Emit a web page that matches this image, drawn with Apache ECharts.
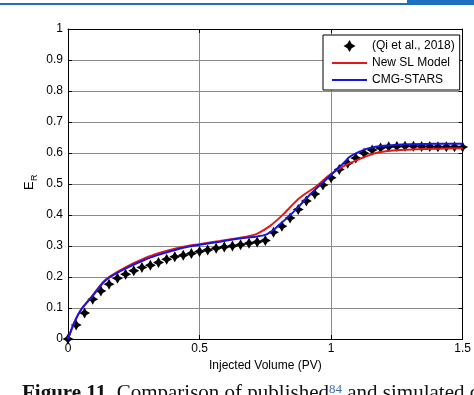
<!DOCTYPE html>
<html>
<head>
<meta charset="utf-8">
<script src="https://cdn.jsdelivr.net/npm/echarts@6/dist/echarts.min.js"></script>
<style>
html,body{margin:0;padding:0;background:#fff;}
#c{width:474px;height:395px;}
</style>
</head>
<body>
<div id="c"></div>
<script>
// ---- data ----
const seriesNames = ['(Qi et al., 2018)', 'New SL Model', 'CMG-STARS'];
const xTicks = [0, 0.5, 1, 1.5];
const yTicks = [0, 0.1, 0.2, 0.3, 0.4, 0.5, 0.6, 0.7, 0.8, 0.9, 1];

const expX = [0,0.031,0.063,0.094,0.125,0.156,0.188,0.219,0.25,0.281,0.313,0.344,0.375,0.406,0.438,0.469,0.5,0.531,0.563,0.594,0.625,0.656,0.688,0.719,0.75,0.781,0.813,0.844,0.875,0.906,0.938,0.969,1.0,1.031,1.063,1.094,1.125,1.156,1.188,1.219,1.25,1.281,1.313,1.344,1.375,1.406,1.438,1.469,1.5];
const expY = [0,0.045,0.084,0.128,0.155,0.177,0.196,0.209,0.22,0.231,0.238,0.247,0.257,0.265,0.27,0.276,0.282,0.287,0.293,0.297,0.30,0.304,0.309,0.313,0.318,0.344,0.364,0.39,0.418,0.445,0.468,0.497,0.52,0.547,0.567,0.584,0.599,0.61,0.616,0.62,0.621,0.622,0.622,0.621,0.621,0.62,0.62,0.62,0.619];

const slX = [0,0.025,0.05,0.09,0.134,0.16,0.22,0.29,0.35,0.41,0.46,0.5,0.577,0.65,0.69,0.72,0.767,0.818,0.88,0.944,0.995,1.046,1.11,1.17,1.235,1.32,1.4,1.5];
const slY = [0,0.055,0.095,0.137,0.184,0.202,0.232,0.26,0.278,0.292,0.301,0.306,0.316,0.326,0.332,0.34,0.364,0.402,0.455,0.493,0.53,0.557,0.581,0.60,0.608,0.612,0.614,0.615];

const cmgX = [0,0.025,0.05,0.09,0.134,0.16,0.22,0.29,0.35,0.41,0.46,0.5,0.577,0.653,0.72,0.75,0.77,0.805,0.843,0.88,0.92,0.98,1.0,1.046,1.071,1.11,1.14,1.2,1.3,1.4,1.5];
const cmgY = [0,0.055,0.095,0.135,0.182,0.20,0.228,0.255,0.273,0.288,0.298,0.304,0.314,0.324,0.331,0.336,0.345,0.37,0.398,0.43,0.466,0.514,0.53,0.566,0.588,0.605,0.615,0.623,0.628,0.63,0.63];

const zip = (xs, ys) => xs.map((x, i) => [x, ys[i]]);

const FONT = 'Liberation Sans, Arial, sans-serif';
const starPath = 'path://M0,-10L3.6,-3.6L10,0L3.6,3.6L0,10L-3.6,3.6L-10,0L-3.6,-3.6Z';
const lineIcon = 'path://M0,0L70,0L70,4L0,4Z';

const chart = echarts.init(document.getElementById('c'), null, {renderer: 'canvas'});

const axisCommon = {
  type: 'value',
  axisLine: {show: true, onZero: false, lineStyle: {color: '#000', width: 1}},
  axisTick: {show: true, inside: true, length: 4, lineStyle: {color: '#000'}},
};

chart.setOption({
  animation: false,
  backgroundColor: '#fff',
  grid: {left: 68, right: 11, top: 29, bottom: 56, containLabel: false},
  xAxis: [
    Object.assign({}, axisCommon, {
      min: xTicks[0], max: xTicks[xTicks.length - 1], interval: 0.5, position: 'bottom',
      name: 'Injected Volume (PV)', nameLocation: 'middle', nameGap: 19,
      nameTextStyle: {color: '#000', fontSize: 12, fontFamily: FONT},
      axisLabel: {color: '#000', fontSize: 12, fontFamily: FONT, margin: 4},
      splitLine: {show: true, lineStyle: {color: '#8a8a8a', width: 1}}
    }),
    Object.assign({}, axisCommon, {
      min: xTicks[0], max: xTicks[xTicks.length - 1], interval: 0.5, position: 'top',
      axisLabel: {show: false}, splitLine: {show: false}
    })
  ],
  yAxis: [
    Object.assign({}, axisCommon, {
      min: yTicks[0], max: yTicks[yTicks.length - 1], interval: 0.1, position: 'left',
      axisLabel: {color: '#000', fontSize: 12, fontFamily: FONT, margin: 5,
        formatter: v => String(Math.round(v * 10) / 10)},
      splitLine: {show: true, lineStyle: {color: '#8a8a8a', width: 1}}
    }),
    Object.assign({}, axisCommon, {
      min: yTicks[0], max: yTicks[yTicks.length - 1], interval: 0.1, position: 'right',
      axisLabel: {show: false}, splitLine: {show: false}
    })
  ],
  legend: {
    orient: 'vertical', left: 323, top: 35,
    backgroundColor: '#fff', borderColor: '#000', borderWidth: 1, borderRadius: 0,
    padding: [5, 5, 4, 9], itemGap: 5, itemWidth: 35, itemHeight: 12,
    textStyle: {color: '#000', fontSize: 12, fontFamily: FONT},
    data: [
      {name: seriesNames[0], icon: starPath},
      {name: seriesNames[1], icon: lineIcon},
      {name: seriesNames[2], icon: lineIcon}
    ]
  },
  series: [
    {
      name: seriesNames[0], type: 'scatter', data: zip(expX, expY),
      symbol: starPath, symbolSize: 11,
      itemStyle: {color: '#000', opacity: 1}, z: 2
    },
    {
      name: seriesNames[1], type: 'line', data: zip(slX, slY),
      symbol: 'none', smooth: 0.3,
      lineStyle: {color: '#e3171d', width: 2}, itemStyle: {color: '#e3171d'}, z: 3
    },
    {
      name: seriesNames[2], type: 'line', data: zip(cmgX, cmgY),
      symbol: 'none', smooth: 0.3,
      lineStyle: {color: '#1515de', width: 2}, itemStyle: {color: '#1515de'}, z: 4
    }
  ],
  graphic: [
    {type: 'rect', shape: {x: 0, y: 3, width: 474, height: 2}, style: {fill: '#1f6fbf'}},
    {type: 'rect', shape: {x: 407, y: 0, width: 67, height: 5}, style: {fill: '#1f6fbf'}},
    {type: 'text', x: 36, y: 190, rotation: Math.PI / 2,
      style: {text: 'E', fill: '#000', fontSize: 13, fontFamily: FONT, textAlign: 'left', textVerticalAlign: 'bottom'}},
    {type: 'text', x: 39, y: 181, rotation: Math.PI / 2,
      style: {text: 'R', fill: '#000', fontSize: 9, fontFamily: FONT, textAlign: 'left', textVerticalAlign: 'bottom'}},
    {type: 'text', x: 22, y: 383,
      style: {
        text: '{b|Figure 11.} Comparison of published{s|84} and simulated data for experimental',
        fill: '#111', fontSize: 21, fontFamily: 'Liberation Serif, Times New Roman, serif',
        textVerticalAlign: 'top',
        rich: {
          b: {fontWeight: 'bold', fontSize: 21, fontFamily: 'Liberation Serif, serif', fill: '#111'},
          s: {fontSize: 13, fill: '#3a6db5', verticalAlign: 'top', fontFamily: 'Liberation Serif, serif'}
        }
      }}
  ]
});
</script>
</body>
</html>
